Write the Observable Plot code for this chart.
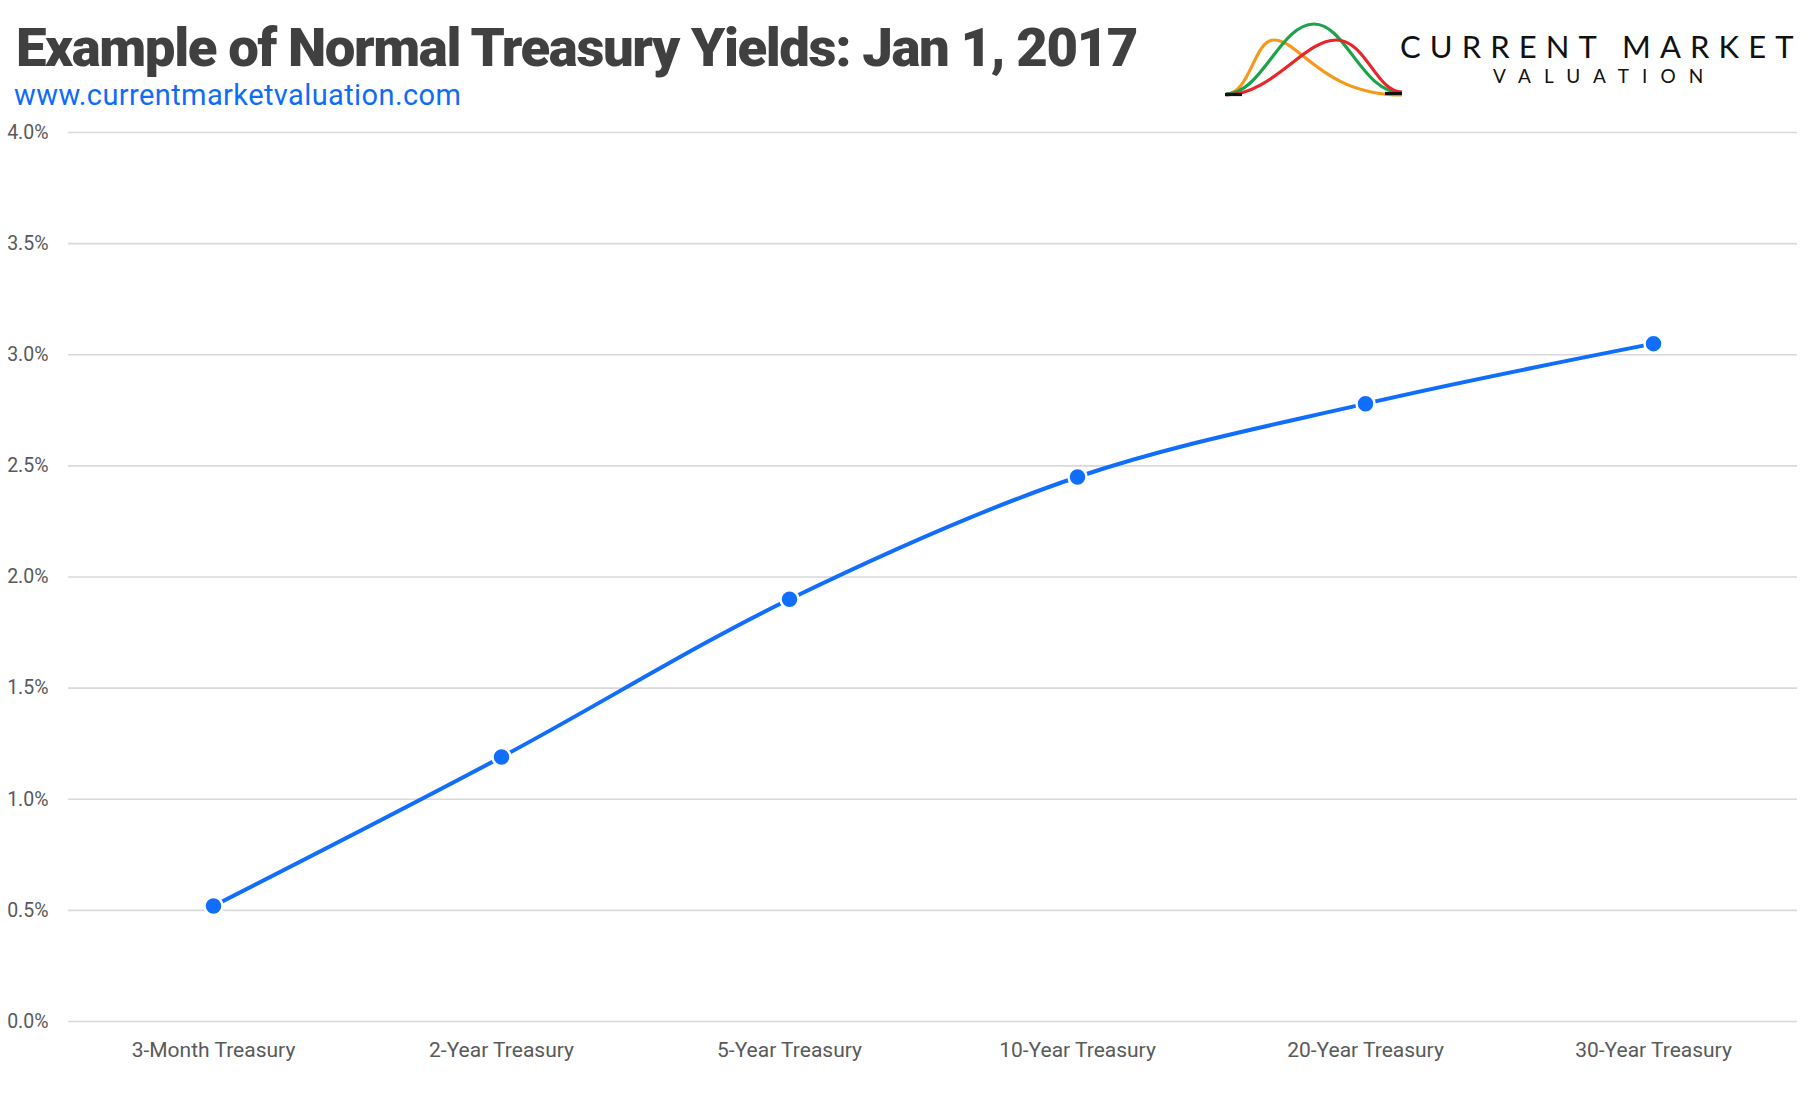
<!DOCTYPE html>
<html>
<head>
<meta charset="utf-8">
<script src="https://cdn.jsdelivr.net/npm/d3@7"></script>
<script src="https://cdn.jsdelivr.net/npm/@observablehq/plot@0.6"></script>
<style>
  html, body { margin: 0; padding: 0; background: #fff; }
  #wrap { position: relative; width: 1814px; height: 1114px; overflow: hidden; background: #fff; }
  #header { position: relative; width: 1814px; height: 100px; }
  #title { position: absolute; left: 16px; top: 20px; font-family: Roboto, "Noto Sans", sans-serif; font-weight: 900; font-size: 54.5px; letter-spacing: -1.4px; color: #404040; white-space: nowrap; line-height: 1; }
  #subtitle { position: absolute; left: 14px; top: 81px; font-family: Roboto, sans-serif; font-size: 29px; letter-spacing: 0.4px; color: #0f6cf7; white-space: nowrap; line-height: 1; }
  #logo { position: absolute; left: 1222px; top: 19px; }
  #brand1 { position: absolute; left: 1400px; top: 31px; font-family: Lato, "Open Sans", sans-serif; font-weight: 400; font-size: 31px; letter-spacing: 9.1px; color: #111; white-space: nowrap; line-height: 1; }
  #brand2 { position: absolute; left: 1493px; top: 66px; font-family: Lato, "Open Sans", sans-serif; font-weight: 400; font-size: 19px; letter-spacing: 13.1px; color: #111; white-space: nowrap; line-height: 1; }
  #chart svg { display: block; }
</style>
</head>
<body>
<div id="wrap">
  <div id="header">
    <div id="title">Example of Normal Treasury Yields: Jan 1, 2017</div>
    <div id="subtitle">www.currentmarketvaluation.com</div>
    <svg id="logo" width="185" height="82" viewBox="0 0 185 82">
      <path d="M4,75 C28,75 32,21 52,21 C78,21 100,76 180,76" fill="none" stroke="#f39a1c" stroke-width="3.2"/>
      <path d="M4,75 C40,75 58,5 92,5 C124,5 140,74 180,74" fill="none" stroke="#1aa34a" stroke-width="3.2"/>
      <path d="M4,76 C50,76 82,21 114,21 C144,21 154,73 180,73" fill="none" stroke="#e8262a" stroke-width="3.2"/>
      <path d="M3,75.5 L20,75.5" stroke="#111" stroke-width="3.2"/>
      <path d="M163,74.5 L180,74.5" stroke="#111" stroke-width="3.2"/>
    </svg>
    <div id="brand1">CURRENT MARKET</div>
    <div id="brand2">VALUATION</div>
  </div>
  <div id="chart"></div>
</div>
<script>
const categories = ["3-Month Treasury", "2-Year Treasury", "5-Year Treasury", "10-Year Treasury", "20-Year Treasury", "30-Year Treasury"];
const yields = [0.52, 1.19, 1.90, 2.45, 2.78, 3.05];
const yTicks = [0, 0.5, 1.0, 1.5, 2.0, 2.5, 3.0, 3.5, 4.0];

const data = categories.map((c, i) => ({category: c, value: yields[i]}));

const chart = Plot.plot({
  width: 1814,
  height: 1014,
  marginTop: 32,
  marginBottom: 93,
  marginLeft: 68,
  marginRight: 17,
  style: { fontFamily: "Roboto, sans-serif", background: "#fff" },
  x: { type: "point", domain: categories, padding: 0.5, label: null },
  y: { domain: [0, 4], ticks: yTicks, label: null },
  marks: [
    Plot.ruleY(yTicks, { stroke: "#d9d9d9", strokeWidth: 1.6 }),
    Plot.axisY({ ticks: yTicks, tickSize: 0, tickPadding: 20, tickFormat: d => d.toFixed(1) + "%", fontSize: 19.5, fill: "#595959", label: null }),
    Plot.axisX({ tickSize: 0, tickPadding: 21, fontSize: 21, fill: "#595959", label: null }),
    Plot.line(data, { x: "category", y: "value", stroke: "#106efa", strokeWidth: 4, curve: "catmull-rom" }),
    Plot.dot(data, { x: "category", y: "value", r: 9, fill: "#106efa", stroke: "#fff", strokeWidth: 2.5 })
  ]
});
document.getElementById("chart").appendChild(chart);
</script>
</body>
</html>
